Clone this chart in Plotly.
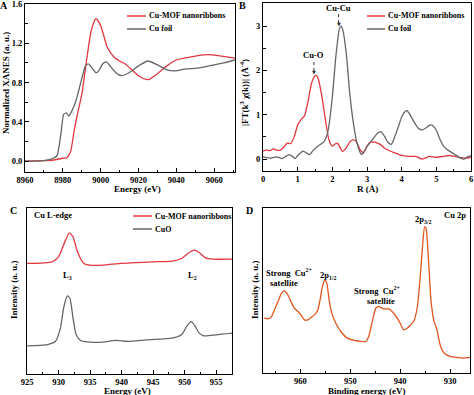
import plotly.graph_objects as go

# ---------------- Data ----------------
# Panel A: XANES
a_mof_e = [8960, 8970, 8975, 8980, 8982, 8984, 8986, 8987.5, 8990, 8993, 8995, 8997.5, 9000, 9003.5, 9007, 9010, 9013, 9020, 9025, 9030, 9035, 9040, 9050, 9057, 9064, 9071]
a_mof_v = [0.0, 0.005, 0.012, 0.03, 0.034, 0.09, 0.31, 0.46, 0.68, 1.09, 1.33, 1.45, 1.38, 1.16, 1.06, 1.02, 0.99, 0.87, 0.83, 0.89, 0.97, 1.03, 1.07, 1.085, 1.07, 1.05]
a_foil_e = [8960, 8970, 8975, 8977, 8979, 8980.5, 8982, 8983, 8985, 8987, 8990, 8992, 8993.5, 8995, 8997.5, 8999, 9001, 9003, 9005, 9008, 9011, 9015, 9020, 9025, 9030, 9035, 9040, 9045, 9050, 9055, 9060, 9065, 9071]
a_foil_v = [0.0, 0.005, 0.03, 0.06, 0.28, 0.48, 0.49, 0.46, 0.52, 0.62, 0.84, 0.97, 0.99, 0.96, 0.90, 0.92, 0.99, 1.01, 0.97, 0.90, 0.87, 0.90, 0.97, 1.02, 0.98, 0.93, 0.92, 0.94, 0.945, 0.96, 0.98, 1.0, 1.03]

# Panel B: FT-EXAFS
b_mof_r = [0, 0.1, 0.2, 0.3, 0.4, 0.5, 0.6, 0.7, 0.8, 0.9, 1.0, 1.1, 1.2, 1.3, 1.4, 1.5, 1.55, 1.6, 1.7, 1.8, 1.9, 2.0, 2.1, 2.15, 2.2, 2.3, 2.4, 2.5, 2.6, 2.7, 2.8, 2.9, 3.0, 3.1, 3.2, 3.3, 3.4, 3.5, 3.7, 3.9, 4.0, 4.2, 4.4, 4.6, 4.8, 5.0, 5.2, 5.35, 5.6, 5.8, 6.0]
b_mof_v = [0.18, 0.2, 0.19, 0.23, 0.2, 0.2, 0.27, 0.36, 0.35, 0.5, 0.77, 0.89, 0.98, 1.3, 1.71, 1.88, 1.88, 1.79, 1.41, 0.89, 0.44, 0.29, 0.35, 0.36, 0.29, 0.17, 0.25, 0.38, 0.44, 0.38, 0.21, 0.14, 0.29, 0.38, 0.38, 0.36, 0.32, 0.25, 0.17, 0.11, 0.08, 0.06, 0.06, 0.0, 0.06, 0.04, 0.06, 0.08, 0.05, 0.02, 0.04]
b_foil_r = [0, 0.1, 0.2, 0.4, 0.55, 0.7, 0.75, 0.85, 0.93, 1.0, 1.1, 1.15, 1.25, 1.35, 1.45, 1.6, 1.75, 1.85, 1.9, 2.0, 2.1, 2.2, 2.25, 2.3, 2.4, 2.5, 2.6, 2.7, 2.8, 2.85, 2.9, 3.0, 3.1, 3.2, 3.3, 3.4, 3.5, 3.6, 3.7, 3.8, 3.9, 4.0, 4.1, 4.15, 4.2, 4.3, 4.4, 4.5, 4.6, 4.7, 4.8, 4.85, 4.9, 5.0, 5.1, 5.2, 5.3, 5.5, 5.7, 5.8, 5.9, 6.0]
b_foil_v = [0.05, 0.03, 0.02, 0.05, 0.01, 0.08, 0.1, 0.06, 0.01, 0.08, 0.15, 0.18, 0.14, 0.1, 0.2, 0.3, 0.38, 0.55, 0.75, 1.4, 2.3, 2.93, 3.0, 2.92, 2.4, 1.5, 0.85, 0.4, 0.15, 0.1, 0.15, 0.28, 0.38, 0.48, 0.58, 0.62, 0.52, 0.38, 0.33, 0.5, 0.72, 0.95, 1.07, 1.09, 1.05, 0.92, 0.78, 0.68, 0.66, 0.7, 0.76, 0.77, 0.75, 0.65, 0.45, 0.3, 0.22, 0.12, 0.02, 0.0, 0.05, 0.07]

# Panel C: Cu L-edge
c_mof_e = [925, 929, 930, 931, 931.7, 932.3, 933, 934, 935, 937, 940, 945, 948, 949.5, 950.5, 951.5, 952.3, 953.3, 954.5, 957.5]
c_mof_v = [3.33, 3.38, 3.53, 3.98, 4.25, 4.13, 3.68, 3.33, 3.28, 3.28, 3.33, 3.38, 3.40, 3.48, 3.63, 3.73, 3.66, 3.50, 3.46, 3.46]
c_cuo_e = [925, 928, 929.5, 930.3, 930.8, 931.4, 931.8, 932.3, 932.8, 933.5, 935, 937, 939, 941, 944, 948, 949.5, 950.3, 951, 951.6, 952.3, 953, 955, 957.5]
c_cuo_v = [0.85, 0.88, 0.98, 1.38, 1.98, 2.35, 2.28, 1.68, 1.18, 1.01, 0.96, 0.96, 1.01, 0.98, 1.03, 1.08, 1.18, 1.43, 1.58, 1.46, 1.23, 1.15, 1.18, 1.23]

# Panel D: Cu 2p XPS
d_be = [967.3, 966.5, 965.8, 965.2, 964.5, 963.8, 963.2, 962.5, 961.9, 961.2, 960.5, 959.9, 959.2, 958.5, 957.9, 957.2, 956.5, 956.0, 955.6, 955.1, 954.7, 954.2, 953.6, 952.9, 951.9, 950.6, 949.2, 947.9, 946.9, 946.3, 945.6, 944.9, 944.3, 943.3, 942.3, 941.3, 940.6, 940.0, 939.3, 938.6, 938.0, 937.3, 936.6, 936.0, 935.5, 935.1, 934.8, 934.3, 933.8, 933.2, 932.7, 931.9, 931.0, 930.0, 928.7, 927.4, 926.0]
d_int = [1.65, 1.63, 1.70, 1.90, 2.15, 2.40, 2.47, 2.35, 2.15, 1.95, 1.85, 1.75, 1.60, 1.60, 1.67, 1.75, 1.90, 2.25, 2.60, 2.80, 2.70, 2.15, 1.75, 1.50, 1.25, 1.05, 0.98, 0.95, 0.95, 1.10, 1.55, 1.95, 2.00, 1.93, 1.93, 1.80, 1.65, 1.50, 1.30, 1.35, 1.43, 1.55, 1.95, 2.85, 3.85, 4.40, 4.35, 3.35, 2.15, 1.55, 1.35, 0.80, 0.57, 0.50, 0.47, 0.45, 0.47]

a_xticks = [8960, 8980, 9000, 9020, 9040, 9060]
a_yticks = [0.0, 0.4, 0.8, 1.2, 1.6]
a_yticklabels = ["0.0", "0.4", "0.8", "1.2", "1.6"]
b_xticks = [0, 1, 2, 3, 4, 5, 6]
b_yticks = [0, 1, 2, 3]
c_xticks = [925, 930, 935, 940, 945, 950, 955]
d_xticks = [960, 950, 940, 930]

# ---------------- Styling ----------------
W, H = 474, 395
RED = "#E2383F"
GRAY = "#666666"
ORANGE = "#E0561E"
FONT = "Liberation Serif"
tickfont = dict(family=FONT, size=8.5, color="black", weight="bold")
titlefont = dict(family=FONT, size=9, color="black", weight="bold")
LW = 1.3

fig = go.Figure()
fig.add_trace(go.Scatter(x=a_mof_e, y=a_mof_v, mode="lines", line=dict(color=RED, width=LW, shape="spline", smoothing=0.6), xaxis="x", yaxis="y"))
fig.add_trace(go.Scatter(x=a_foil_e, y=a_foil_v, mode="lines", line=dict(color=GRAY, width=LW, shape="spline", smoothing=0.6), xaxis="x", yaxis="y"))
fig.add_trace(go.Scatter(x=b_mof_r, y=b_mof_v, mode="lines", line=dict(color=RED, width=LW, shape="spline", smoothing=0.6), xaxis="x2", yaxis="y2"))
fig.add_trace(go.Scatter(x=b_foil_r, y=b_foil_v, mode="lines", line=dict(color=GRAY, width=LW, shape="spline", smoothing=0.6), xaxis="x2", yaxis="y2"))
fig.add_trace(go.Scatter(x=c_mof_e, y=c_mof_v, mode="lines", line=dict(color=RED, width=LW, shape="spline", smoothing=0.6), xaxis="x3", yaxis="y3"))
fig.add_trace(go.Scatter(x=c_cuo_e, y=c_cuo_v, mode="lines", line=dict(color=GRAY, width=LW, shape="spline", smoothing=0.6), xaxis="x3", yaxis="y3"))
fig.add_trace(go.Scatter(x=d_be, y=d_int, mode="lines", line=dict(color=ORANGE, width=LW, shape="spline", smoothing=0.5), xaxis="x4", yaxis="y4"))


def px(v):
    return v / W


def py(v):
    return 1 - v / H


def ax(domain, rng, **kw):
    d = dict(domain=domain, range=rng, showline=True, linecolor="black", linewidth=1,
             mirror=True, ticks="inside", ticklen=4, tickwidth=1, tickcolor="black",
             tickfont=tickfont, showgrid=False, zeroline=False, automargin=False,
             ticklabeloverflow="allow")
    d.update(kw)
    return d


minor_common = dict(ticks="inside", ticklen=2.5, tickwidth=1, tickcolor="black", showgrid=False)

fig.update_layout(
    width=W, height=H, autosize=False,
    margin=dict(l=0, r=0, t=0, b=0),
    plot_bgcolor="white", paper_bgcolor="white",
    showlegend=False,
    xaxis=ax([px(25), px(235)], [8960, 9071], anchor="y", tickvals=a_xticks,
             minor=dict(dtick=10, **minor_common)),
    yaxis=ax([py(172), py(4)], [-0.11, 1.6], anchor="x", tickvals=a_yticks, ticktext=a_yticklabels,
             minor=dict(dtick=0.2, **minor_common)),
    xaxis2=ax([px(263), px(471)], [0, 6], anchor="y2", tickvals=b_xticks,
              minor=dict(dtick=0.5, **minor_common)),
    yaxis2=ax([py(171), py(3)], [-0.27, 3.52], anchor="x2", tickvals=b_yticks,
              minor=dict(dtick=0.5, **minor_common)),
    xaxis3=ax([px(27), px(232)], [925, 957.5], anchor="y3", tickvals=c_xticks,
              minor=dict(dtick=2.5, **minor_common)),
    yaxis3=ax([py(374), py(208)], [0, 5], anchor="x3", ticks="", showticklabels=False),
    xaxis4=ax([px(263), px(470)], [967.5, 926], anchor="y4", tickvals=d_xticks,
              minor=dict(dtick=5, **minor_common)),
    yaxis4=ax([py(373), py(208)], [0, 4.97], anchor="x4", ticks="", showticklabels=False),
)

lfont = dict(family=FONT, size=8, color="black", weight="bold")
afont = dict(family=FONT, size=8.5, color="black", weight="bold")
annotations = []
shapes = []

# axis titles (placed as paper-anchored text)
for tx, ty, t, ang in [(137, 189, "Energy (eV)", 0), (6, 83, "Normalized XANES (a. u.)", -90),
                       (367, 189, "R (Å)", 0), (244, 93, "|FT(k<sup>3</sup> χ(k))| (Å<sup>-4</sup>)", -90),
                       (127, 390.5, "Energy (eV)", 0), (14, 290, "Intensity (a. u.)", -90),
                       (367, 390.5, "Binding energy (eV)", 0), (255, 290, "Intensity (a. u.)", -90)]:
    annotations.append(dict(xref="paper", yref="paper", x=px(tx), y=py(ty), text=t, showarrow=False,
                            textangle=ang, xanchor="center", yanchor="middle", font=titlefont))


def legend_item(x0, x1, yy, color, text):
    shapes.append(dict(type="line", xref="paper", yref="paper", x0=px(x0), x1=px(x1), y0=py(yy), y1=py(yy),
                       line=dict(color=color, width=1.5)))
    annotations.append(dict(xref="paper", yref="paper", x=px(x1 + 1), y=py(yy), text=text, showarrow=False,
                            xanchor="left", yanchor="middle", font=lfont))


legend_item(127, 146, 16, RED, "Cu-MOF nanoribbons")
legend_item(127, 146, 29, GRAY, "Cu foil")
legend_item(367, 385, 16, RED, "Cu-MOF nanoribbons")
legend_item(367, 385, 29, GRAY, "Cu foil")
legend_item(133, 152, 216, RED, "Cu-MOF nanoribbons")
legend_item(133, 152, 229, GRAY, "CuO")

# panel letters
for lx, ly, t in [(4, 6, "A"), (243, 6, "B"), (13, 211, "C"), (249, 211, "D")]:
    annotations.append(dict(xref="paper", yref="paper", x=px(lx), y=py(ly), text=t, showarrow=False,
                            xanchor="center", yanchor="middle", font=dict(family=FONT, size=10, color="black", weight="bold")))

# panel B peak labels with dotted arrows
for xr, ty, y0, y1, t in [(1.47, 2.35, 2.19, 1.97, "Cu-O"), (2.18, 3.41, 3.27, 3.05, "Cu-Cu")]:
    annotations.append(dict(xref="x2", yref="y2", x=xr, y=ty, text=t, showarrow=False,
                            font=afont, xanchor="center", yanchor="middle"))
    shapes.append(dict(type="line", xref="x2", yref="y2", x0=xr, x1=xr, y0=y0, y1=y1,
                       line=dict(color="#333333", width=1, dash="dot")))
    annotations.append(dict(xref="x2", yref="y2", x=xr, y=y1, text="▼", showarrow=False,
                            xanchor="center", yanchor="middle", font=dict(family="DejaVu Sans", size=5, color="#333333")))

# panel C labels
annotations.append(dict(xref="x3", yref="y3", x=925.8, y=4.8, text="Cu L-edge", showarrow=False,
                        xanchor="left", yanchor="middle", font=afont))
annotations.append(dict(xref="x3", yref="y3", x=931.4, y=2.98, text="L<sub>3</sub>", showarrow=False, font=afont))
annotations.append(dict(xref="x3", yref="y3", x=951.2, y=2.98, text="L<sub>2</sub>", showarrow=False, font=afont))

# panel D labels
for xx, yy, t in [(929.0, 4.77, "Cu 2p"), (935.3, 4.63, "2p<sub>3/2</sub>"), (954.4, 2.95, "2p<sub>1/2</sub>"),
                  (962.2, 3.03, "Strong  Cu<sup>2+</sup>"), (963.2, 2.7, "satellite"),
                  (944.5, 2.5, "Strong  Cu<sup>2+</sup>"), (943.8, 2.17, "satellite")]:
    annotations.append(dict(xref="x4", yref="y4", x=xx, y=yy, text=t, showarrow=False, font=afont,
                            xanchor="center", yanchor="middle"))

fig.update_layout(annotations=annotations, shapes=shapes)
fig.write_html("out.html", config={"displayModeBar": False},
               post_script="document.body.style.margin='0px';document.body.style.padding='0px';")
